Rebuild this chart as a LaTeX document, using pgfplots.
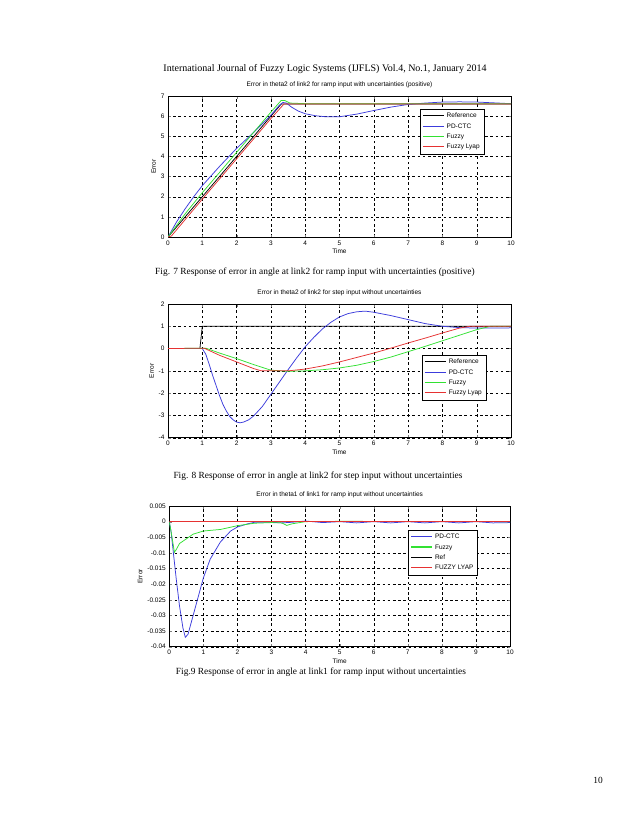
\documentclass[border=0pt]{standalone}
\usepackage{fontspec}
\setmainfont{Liberation Serif}
\setsansfont{Liberation Sans}
\usepackage{pgfplots}
\pgfplotsset{compat=1.18}
\definecolor{mblue}{RGB}{60,60,220}
\definecolor{mgreen}{RGB}{50,225,50}
\definecolor{mred}{RGB}{230,50,50}
\newcommand{\axf}{\fontsize{6.5}{7}\selectfont\sffamily}
\pgfplotsset{
  mat/.style={
    scale only axis, xmin=0, xmax=10, xtick={0,...,10},
    scaled y ticks=false, scaled x ticks=false,
    tick align=inside, major tick length=2.5pt,
    grid=major,
    major grid style={black, dash pattern=on 2.6pt off 2.6pt, line width=0.35pt},
    axis line style={line width=0.5pt},
    ticklabel style={font=\axf},
    /pgf/number format/assume math mode=true,
    label style={font=\axf},
    title style={font=\axf, yshift=-1pt},
    xlabel={Time}, ylabel={Error},
    xlabel style={yshift=3pt},
    ylabel style={yshift=-2pt},
    legend style={font=\axf, cells={anchor=west}, inner sep=2pt, row sep=0.3pt},
    legend image code/.code={\draw[##1, line width=1.1pt] (0cm,0.6pt) -- (0.75cm,0.6pt);},
    every axis plot/.append style={line width=0.75pt, no marks},
  },
  lb/.style={draw=black, color=black},
  lblue/.style={draw=mblue, color=mblue},
  lgreen/.style={draw=mgreen, color=mgreen},
  lred/.style={draw=mred, color=mred},
}
\begin{document}
\begin{tikzpicture}
\useasboundingbox (0,0) rectangle (638pt,-826pt);
\fill[white] (0,0) rectangle (638pt,-826pt);
\node[font=\fontsize{10}{11}\selectfont] at (325pt,-69pt) {International Journal of Fuzzy Logic Systems (IJFLS) Vol.4, No.1, January 2014};

% ---------- Chart 1 ----------
\begin{axis}[mat, at={(168pt,-237pt)}, anchor=south west, width=343pt, height=141pt,
  ymin=0, ymax=7, ytick={0,...,7},
  title={Error in theta2 of link2 for ramp input with uncertainties (positive)},
  legend style={at={(0.921,0.908)}, anchor=north east}]
\addplot[lb] coordinates {(0,0) (3.3,6.6) (10,6.6)};
\addplot[lblue] coordinates {(0,0) (0.25,0.75) (0.5,1.4) (0.75,2.0) (1,2.55) (1.5,3.5) (2,4.4) (2.5,5.2) (3,6.05) (3.25,6.55) (3.35,6.68) (3.45,6.65) (3.6,6.45) (3.8,6.25) (4,6.12) (4.3,6.02) (4.6,5.97) (5,5.97) (5.5,6.1) (6,6.28) (6.5,6.45) (7,6.58) (7.5,6.65) (8,6.7) (8.5,6.71) (9,6.7) (9.5,6.66) (10,6.62)};
\addplot[lgreen] coordinates {(0,0) (0.5,1.15) (1,2.2) (1.5,3.2) (2,4.2) (2.5,5.2) (3,6.2) (3.3,6.78) (3.4,6.78) (3.55,6.65) (4,6.62) (10,6.62)};
\addplot[lred] coordinates {(0,0) (0.1,0.05) (1,1.88) (2,3.88) (3,5.88) (3.38,6.6) (10,6.6)};
\legend{Reference, PD-CTC, Fuzzy, Fuzzy Lyap}
\end{axis}
\node[font=\fontsize{9.4}{11}\selectfont] at (315pt,-272pt) {Fig. 7 Response of error in angle at link2 for ramp input with uncertainties (positive)};

% ---------- Chart 2 ----------
\begin{axis}[mat, at={(168pt,-437.7pt)}, anchor=south west, width=343pt, height=133.7pt,
  ymin=-4, ymax=2, ytick={-4,...,2}, yticklabels={-4,-3,-2,-1,0,1,2},
  title={Error in theta2 of link2 for step input without uncertainties},
  legend style={at={(0.927,0.618)}, anchor=north east}]
\addplot[lb] coordinates {(0,0) (0.93,0) (1.0,1) (10,1)};
\addplot[lblue] coordinates {(0,0) (1,0) (1.1,-0.25) (1.2,-0.7) (1.3,-1.2) (1.4,-1.65) (1.5,-2.1) (1.6,-2.5) (1.7,-2.8) (1.8,-3.05) (1.9,-3.2) (2,-3.3) (2.1,-3.33) (2.2,-3.3) (2.35,-3.2) (2.5,-3.02) (2.75,-2.6) (3,-2.05) (3.25,-1.5) (3.5,-0.95) (3.75,-0.42) (4,0.08) (4.25,0.5) (4.5,0.88) (4.75,1.18) (5,1.42) (5.25,1.57) (5.5,1.65) (5.75,1.68) (6,1.63) (6.5,1.48) (7,1.3) (7.5,1.12) (8,1.0) (8.5,0.94) (9,0.92) (9.5,0.92) (10,0.93)};
\addplot[lgreen] coordinates {(0,0) (1.1,0.02) (1.5,-0.2) (2,-0.45) (2.5,-0.72) (3,-0.97) (3.5,-1.02) (4,-1.0) (4.5,-0.95) (5,-0.87) (5.5,-0.75) (6,-0.58) (6.5,-0.38) (7,-0.14) (7.5,0.1) (8,0.35) (8.5,0.6) (9,0.85) (9.4,1.0) (10,1.0)};
\addplot[lred] coordinates {(0,0) (1.05,0.02) (1.5,-0.3) (2,-0.6) (2.5,-0.9) (2.7,-0.99) (3,-1.0) (3.5,-1.0) (4,-0.92) (4.5,-0.78) (5,-0.6) (5.5,-0.4) (6,-0.2) (6.5,0.02) (7,0.25) (7.5,0.47) (8,0.7) (8.5,0.92) (8.8,1.0) (10,1.0)};
\legend{Reference, PD-CTC, Fuzzy, Fuzzy Lyap}
\end{axis}
\node[font=\fontsize{9.4}{11}\selectfont] at (318pt,-476pt) {Fig. 8 Response of error in angle at link2 for step input without uncertainties};

% ---------- Chart 3 ----------
\begin{axis}[mat, at={(169.3pt,-646.7pt)}, anchor=south west, width=340.7pt, height=140.7pt,
  ymin=-0.04, ymax=0.005,
  ytick={-0.04,-0.035,-0.03,-0.025,-0.02,-0.015,-0.01,-0.005,0,0.005},
  yticklabels={-0.04,-0.035,-0.03,-0.025,-0.02,-0.015,-0.01,-0.005,0,0.005},
  title={Error in theta1 of link1 for ramp input without uncertainties},
  legend style={at={(0.905,0.829)}, anchor=north east}]
\addplot[lblue] coordinates {(0,0) (0.05,-0.003) (0.1,-0.008) (0.2,-0.018) (0.3,-0.027) (0.4,-0.034) (0.47,-0.037) (0.55,-0.036) (0.65,-0.032) (0.8,-0.026) (1,-0.018) (1.2,-0.012) (1.5,-0.0065) (1.8,-0.003) (2,-0.0017) (2.3,-0.0007) (2.5,-0.0002) (3,-0.0002) (3.3,-0.0004) (3.6,-0.0002) (4,0.0002) (4.5,-0.0003) (5,0) (5.5,-0.0004) (6,0) (6.5,-0.0004) (7,0) (7.5,-0.0004) (8,0) (8.5,-0.0004) (9,0) (9.5,-0.0004) (10,-0.0003)};
\addplot[lgreen] coordinates {(0,0) (0.08,-0.005) (0.15,-0.0098) (0.2,-0.009) (0.3,-0.007) (0.5,-0.0055) (0.7,-0.004) (1,-0.003) (1.5,-0.0025) (2,-0.0013) (2.5,-0.0005) (3,-0.0003) (3.3,-0.0004) (3.45,-0.0012) (3.6,-0.0007) (4,0) (5,0.0001) (10,0)};
\addplot[lb] coordinates {(0,0) (10,0)};
\addplot[lred] coordinates {(0,0) (10,0)};
\legend{PD-CTC, Fuzzy, Ref, FUZZY LYAP}
\end{axis}
\node[font=\fontsize{9.4}{11}\selectfont] at (321pt,-672pt) {Fig.9 Response of error in angle at link1 for ramp input without uncertainties};

\node[font=\fontsize{9.4}{11}\selectfont] at (598pt,-780pt) {10};
\end{tikzpicture}
\end{document}
